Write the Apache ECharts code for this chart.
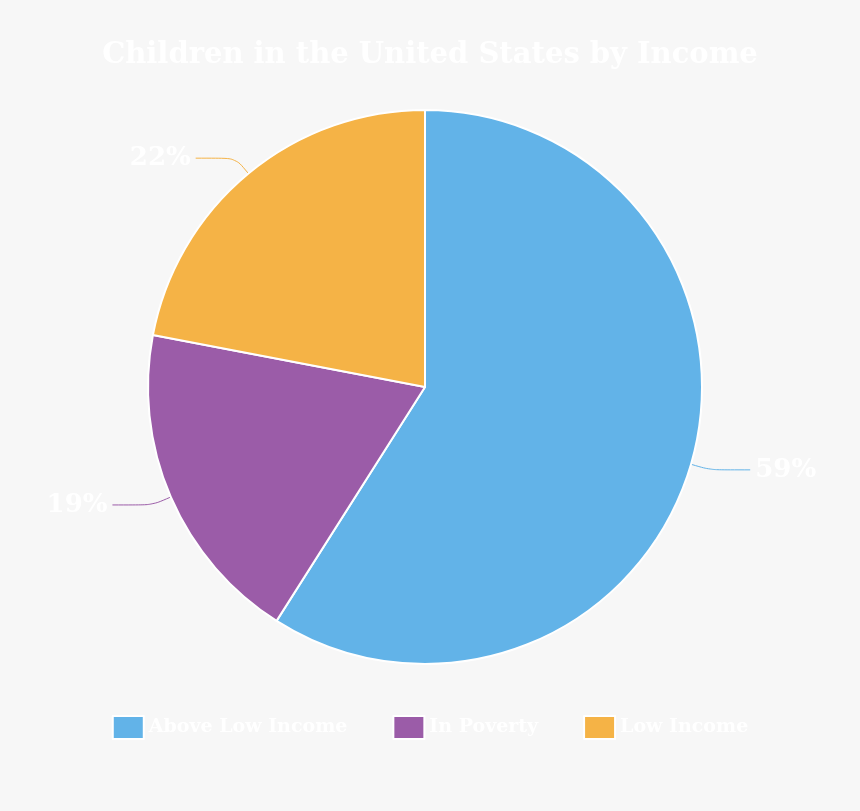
<!DOCTYPE html>
<html><head><meta charset="utf-8">
<script src="https://cdn.jsdelivr.net/npm/echarts@6/dist/echarts.min.js"></script>
<style>html,body{margin:0;padding:0;background:#f7f7f7}#c{width:860px;height:811px}</style>
</head><body><div id="c"></div>
<script>
const categories = ['Above Low Income', 'In Poverty', 'Low Income'];
const values = [59, 19, 22];
const colors = ['#62b3e8', '#9b5ca8', '#f5b346'];
const chart = echarts.init(document.getElementById('c'));
chart.setOption({
  backgroundColor: '#f7f7f7',
  color: colors,
  title: {text: 'Children in the United States by Income', left: 'center', top: 36,
    textStyle: {color: '#ffffff', fontFamily: 'DejaVu Serif', fontWeight: 'bold', fontSize: 29}},
  legend: {bottom: 66, itemWidth: 31, itemHeight: 23, itemGap: 45, icon: 'rect',
    textStyle: {color: '#ffffff', fontFamily: 'DejaVu Serif', fontWeight: 'bold', fontSize: 19},
    data: categories},
  series: [{
    type: 'pie', center: [425, 387], radius: 277, startAngle: 90, clockwise: true,
    itemStyle: {borderColor: '#ffffff', borderWidth: 2},
    label: {formatter: '{c}%', color: '#ffffff', fontFamily: 'DejaVu Serif', fontWeight: 'bold', fontSize: 26},
    labelLine: {length: 20, length2: 40, smooth: true},
    data: categories.map((n, i) => ({name: n, value: values[i]}))
  }]
});
</script></body></html>
